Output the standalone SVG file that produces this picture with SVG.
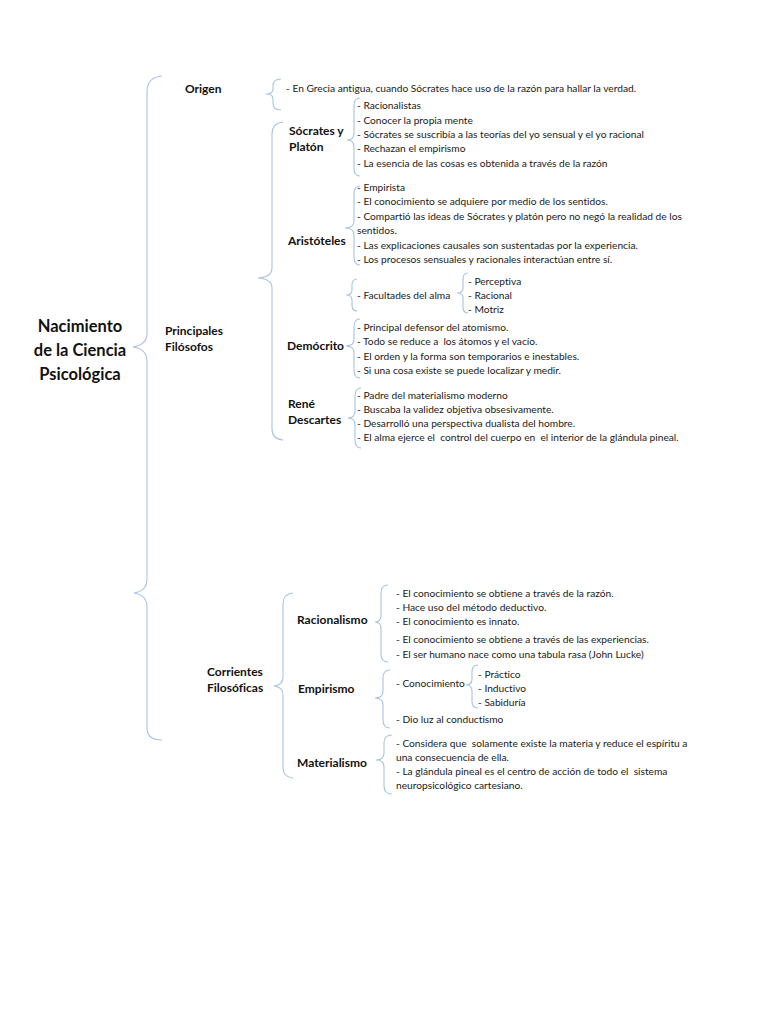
<svg xmlns="http://www.w3.org/2000/svg" width="768" height="1024" viewBox="0 0 768 1024">
<style>
.br{fill:none;stroke:#a7c3e2;stroke-width:1.1}
text{font-family:Lato,"Liberation Sans",sans-serif;font-variant-ligatures:none;white-space:pre}
.t{font-size:10.2px;fill:#1a1a1a}
.h{font-size:12px;font-weight:bold;fill:#111}
.title{font-size:16.5px;font-weight:bold;fill:#111;text-anchor:middle}
</style>
<rect width="768" height="1024" fill="#ffffff"/>
<g id="connectors">
<path class="br" d="M162,76 Q147,77 147,92 L147,333 Q147,345 133,347 Q147,349 147,361 L147,579 Q147,591 134,593 Q147,595 147,607 L147,728 Q147,740 162,740"/>
<path class="br" d="M281,79 Q273,79 273,86 L273,89 Q273,94 266,94 Q273,94 273,99 L273,103 Q273,110 281,110"/>
<path class="br" d="M283,122 Q272,123 272,134 L272,268 Q272,277 258,278 Q272,279 272,288 L272,429 Q272,439 283,440"/>
<path class="br" d="M360,98 Q354,98 354,106 L354,133 Q354,140 347,140 Q354,140 354,147 L354,168 Q354,176 360,176"/>
<path class="br" d="M360,186 Q354,186 354,194 L354,221 Q354,228 345,228 Q354,228 354,235 L354,257 Q354,265 360,265"/>
<path class="br" d="M357,279 Q352,279 352,285 L352,290 Q352,295 346,295 Q352,295 352,300 L352,305 Q352,311 357,311"/>
<path class="br" d="M468,273 Q463,273 463,279 L463,288 Q463,293 457,293 Q463,293 463,298 L463,307 Q463,313 468,313"/>
<path class="br" d="M360,319 Q354,319 354,327 L354,339 Q354,346 346,346 Q354,346 354,353 L354,370 Q354,378 360,378"/>
<path class="br" d="M361,388 Q355,388 355,396 L355,411 Q355,418 348,418 Q355,418 355,425 L355,440 Q355,448 361,448"/>
<path class="br" d="M293,593 Q283,594 283,604 L283,677 Q283,685 274,686 Q283,687 283,695 L283,768 Q283,777 293,778"/>
<path class="br" d="M388,585 Q381,585 381,593 L381,615 Q381,622 375,622 Q381,622 381,629 L381,654 Q381,662 388,662"/>
<path class="br" d="M390,670 Q383,670 383,678 L383,691 Q383,698 375,698 Q383,698 383,705 L383,720 Q383,728 390,728"/>
<path class="br" d="M478,665 Q472,665 472,672 L472,679 Q472,685 466,685 Q472,685 472,691 L472,701 Q472,708 478,708"/>
<path class="br" d="M392,735 Q384,735 384,743 L384,753 Q384,760 376,760 Q384,760 384,767 L384,786 Q384,794 392,794"/>
</g>
<g id="title">
<text class="title" x="80" y="332">Nacimiento</text>
<text class="title" x="80" y="356">de la Ciencia</text>
<text class="title" x="80" y="380">Psicológica</text>
</g>
<g id="origen">
<text class="h" x="185" y="93">Origen</text>
<text class="t" x="286" y="92">- En Grecia antigua, cuando Sócrates hace uso de la razón para hallar la verdad.</text>
</g>
<g id="principales">
<text class="h" x="165" y="335">Principales</text>
<text class="h" x="165" y="351">Filósofos</text>
</g>
<g id="socrates">
<text class="h" x="289" y="135">Sócrates y</text>
<text class="h" x="289" y="151">Platón</text>
<text class="t" x="357" y="109">- Racionalistas</text>
<text class="t" x="357" y="124">- Conocer la propia mente</text>
<text class="t" x="357" y="138">- Sócrates se suscribía a las teorías del yo sensual y el yo racional</text>
<text class="t" x="357" y="152">- Rechazan el empirismo</text>
<text class="t" x="357" y="167">- La esencia de las cosas es obtenida a través de la razón</text>
</g>
<g id="aristoteles">
<text class="h" x="288" y="245">Aristóteles</text>
<text class="t" x="357" y="191">- Empirista</text>
<text class="t" x="357" y="205">- El conocimiento se adquiere por medio de los sentidos.</text>
<text class="t" x="357" y="220">- Compartió las ideas de Sócrates y platón pero no negó la realidad de los</text>
<text class="t" x="357" y="234">sentidos.</text>
<text class="t" x="357" y="249">- Las explicaciones causales son sustentadas por la experiencia.</text>
<text class="t" x="357" y="263">- Los procesos sensuales y racionales interactúan entre sí.</text>
</g>
<g id="democrito">
<text class="h" x="287" y="350">Demócrito</text>
<text class="t" x="357" y="299">- Facultades del alma</text>
<text class="t" x="468" y="285">- Perceptiva</text>
<text class="t" x="468" y="299">- Racional</text>
<text class="t" x="468" y="313">- Motriz</text>
<text class="t" x="357" y="331">- Principal defensor del atomismo.</text>
<text class="t" x="357" y="345">- Todo se reduce a  los átomos y el vacío.</text>
<text class="t" x="357" y="360">- El orden y la forma son temporarios e inestables.</text>
<text class="t" x="357" y="374">- Si una cosa existe se puede localizar y medir.</text>
</g>
<g id="descartes">
<text class="h" x="288" y="408">René</text>
<text class="h" x="288" y="424">Descartes</text>
<text class="t" x="357" y="399">- Padre del materialismo moderno</text>
<text class="t" x="357" y="413">- Buscaba la validez objetiva obsesivamente.</text>
<text class="t" x="357" y="427">- Desarrolló una perspectiva dualista del hombre.</text>
<text class="t" x="357" y="441">- El alma ejerce el  control del cuerpo en  el interior de la glándula pineal.</text>
</g>
<g id="corrientes">
<text class="h" x="207" y="676">Corrientes</text>
<text class="h" x="207" y="692">Filosóficas</text>
</g>
<g id="racionalismo">
<text class="h" x="297" y="624">Racionalismo</text>
<text class="t" x="396" y="597">- El conocimiento se obtiene a través de la razón.</text>
<text class="t" x="396" y="611">- Hace uso del método deductivo.</text>
<text class="t" x="396" y="625">- El conocimiento es innato.</text>
<text class="t" x="396" y="643">- El conocimiento se obtiene a través de las experiencias.</text>
<text class="t" x="396" y="658">- El ser humano nace como una tabula rasa (John Lucke)</text>
</g>
<g id="empirismo">
<text class="h" x="298" y="693">Empirismo</text>
<text class="t" x="396" y="687">- Conocimiento</text>
<text class="t" x="478" y="678">- Práctico</text>
<text class="t" x="478" y="692">- Inductivo</text>
<text class="t" x="478" y="706">- Sabiduría</text>
<text class="t" x="396" y="723">- Dio luz al conductismo</text>
</g>
<g id="materialismo">
<text class="h" x="297" y="767">Materialismo</text>
<text class="t" x="396" y="747">- Considera que  solamente existe la materia y reduce el espíritu a</text>
<text class="t" x="396" y="761">una consecuencia de ella.</text>
<text class="t" x="396" y="775">- La glándula pineal es el centro de acción de todo el  sistema</text>
<text class="t" x="396" y="789">neuropsicológico cartesiano.</text>
</g>
</svg>
